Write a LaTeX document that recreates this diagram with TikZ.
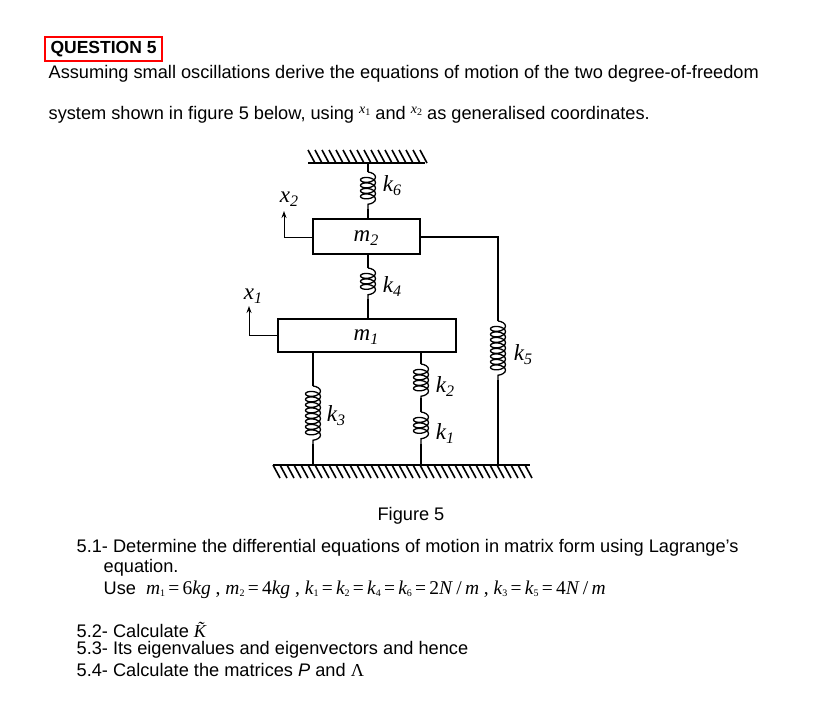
\documentclass[tikz,border=0pt]{standalone}
\usepackage{fontspec}
\setmainfont{Liberation Sans}
\newfontfamily\ser{Liberation Serif}
\usetikzlibrary{decorations.pathmorphing,arrows.meta}
\newcommand{\lb}[2]{{\ser\itshape #1\raisebox{-4pt}{\fontsize{16}{17}\selectfont #2}}}
\newcommand{\sv}[2]{{\ser\itshape #1\raisebox{-2pt}{\fontsize{10}{11}\selectfont\upshape #2}}}
\begin{document}
\begin{tikzpicture}[x=1pt,y=-1pt,line width=1.3pt,
  txt/.style={anchor=west,inner sep=0,font=\fontsize{18.2}{20}\selectfont},
  lab/.style={inner sep=0,font=\fontsize{23}{24}\selectfont},
  coil/.style={decorate,decoration={coil,amplitude=7.5pt,segment length=5.5pt,aspect=0.5}},
  mass/.style={draw,line width=1.3pt,inner sep=0}]
\useasboundingbox (0,0) rectangle (820,716);
\node[draw=red,line width=2pt,anchor=north west,inner sep=2pt,minimum width=117pt,minimum height=24pt,font=\fontsize{17.5}{19}\selectfont\bfseries] (q) at (44,36) {QUESTION 5};
\node[txt] (l1) at (48,74) {Assuming small oscillations derive the equations of motion of the two degree-of-freedom};
\node[txt] (l2) at (48,115) {system shown in figure 5 below, using \raisebox{6pt}{\fontsize{14}{15}\selectfont\sv{x}{1}} and \raisebox{6pt}{\fontsize{14}{15}\selectfont\sv{x}{2}} as generalised coordinates.};
% grounds
\foreach \a in {308,315,...,420} \draw[line width=1.6pt] (\a,150) -- (\a+7,163);
\draw (308,163) -- (425,163);
\foreach \a in {273,280,...,525} \draw[line width=1.6pt] (\a,465) -- (\a+7,478);
\draw (273,465) -- (530,465);
% masses
\node[mass,minimum width=107pt,minimum height=35pt] (m2) at (366.5,236.5) {};
\node[lab] at (366,238) {\lb{m}{2}};
\node[mass,minimum width=178pt,minimum height=33pt] (m1) at (367,335.5) {};
\node[lab] at (366,337) {\lb{m}{1}};
% k6
\draw (368,163) -- (368,172);
\draw[coil] (368,172) -- (368,209);
\draw (368,209) -- (368,219);
\node[lab] at (392,186) {\lb{k}{6}};
% k4
\draw (368,254) -- (368,268);
\draw[coil] (368,268) -- (368,299);
\draw (368,299) -- (368,319);
\node[lab] at (392,287) {\lb{k}{4}};
% k3
\draw (313,352) -- (313,386);
\draw[coil] (313,386) -- (313,444);
\draw (313,444) -- (313,465);
\node[lab] at (336,416) {\lb{k}{3}};
% k2 k1
\draw (421,352) -- (421,364);
\draw[coil] (421,364) -- (421,398);
\draw (421,398) -- (421,412);
\draw[coil] (421,412) -- (421,444);
\draw (421,444) -- (421,465);
\node[lab] at (445,387) {\lb{k}{2}};
\node[lab] at (445,434) {\lb{k}{1}};
% k5
\draw (420,237) -- (498,237) -- (498,321);
\draw[coil] (498,321) -- (498,380);
\draw (498,380) -- (498,465);
\node[lab] at (523,355) {\lb{k}{5}};
% arrows
\draw[-{Stealth[length=7pt,width=5pt]},line width=1pt] (313,237) -- (284,237) -- (284,211);
\node[lab] at (289,199) {\lb{x}{2}};
\draw[-{Stealth[length=7pt,width=5pt]},line width=1pt] (278,335) -- (249,335) -- (249,306);
\node[lab] at (253,296) {\lb{x}{1}};
% text
\node[inner sep=0,font=\fontsize{18.2}{20}\selectfont] (f) at (411,516) {Figure 5};
\node[txt] at (76,548) {5.1- Determine the differential equations of motion in matrix form using Lagrange’s};
\node[txt] at (103,568) {equation.};
\node[txt] at (103,590) {Use \ {\ser\fontsize{19.5}{21}\selectfont \sv{m}{1}\,=\,6\textit{kg} ,\ \sv{m}{2}\,=\,4\textit{kg} ,\ \sv{k}{1}\,=\,\sv{k}{2}\,=\,\sv{k}{4}\,=\,\sv{k}{6}\,=\,2\textit{N}\,/\,\textit{m} ,\ \sv{k}{3}\,=\,\sv{k}{5}\,=\,4\textit{N}\,/\,\textit{m}}};
\node[txt] at (76,630) {5.2- Calculate {\ser\itshape \~{K}}};
\node[txt] at (76,650) {5.3- Its eigenvalues and eigenvectors and hence};
\node[txt] at (76,670) {5.4- Calculate the matrices \textit{P} and {\ser Λ}};
\end{tikzpicture}
\end{document}
